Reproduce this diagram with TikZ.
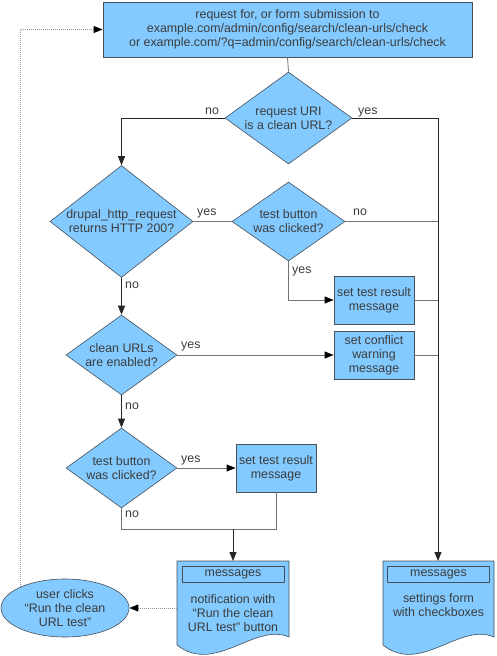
\documentclass[tikz,border=0pt]{standalone}
\usepackage{fontspec}
\setmainfont{Liberation Sans}
\usetikzlibrary{shapes.geometric,arrows.meta,calc}
\definecolor{fillblue}{RGB}{130,202,255}
\definecolor{edgegray}{RGB}{70,80,90}
\definecolor{txt}{RGB}{60,60,60}
\definecolor{linegray}{RGB}{115,115,115}
\definecolor{dotgray}{RGB}{150,150,150}
\begin{document}
\begin{tikzpicture}[x=1pt,y=-1pt,
  every node/.style={font=\fontsize{12.4}{14}\selectfont, text=txt, align=center},
  proc/.style={rectangle, draw=edgegray, fill=fillblue, line width=0.8pt, inner sep=0pt, minimum width=80pt, minimum height=48pt},
  dec/.style={diamond, draw=edgegray, fill=fillblue, line width=0.6pt, inner sep=0pt},
  docshape/.style={draw=edgegray, fill=fillblue, line width=0.6pt},
  conn/.style={draw=linegray, line width=0.8pt},
  arr/.style={draw=black!85, line width=0.8pt, -{Triangle[length=9pt,width=7pt]}},
  garr/.style={draw=linegray, line width=0.8pt, -{Triangle[length=9pt,width=7pt,color=black]}},
  dots/.style={draw=dotgray, line width=0.8pt, dash pattern=on 1pt off 1pt},
  lbl/.style={anchor=base west, inner sep=0pt}]
\useasboundingbox (0,0) rectangle (496,656);

% document shapes
\path[docshape] (177,561) -- (289,561) -- (289,637) .. controls (255,622) and (215,675) .. (177,645) -- cycle;
\path[docshape] (383,561) -- (494,561) -- (494,637) .. controls (460,622) and (420,675) .. (383,645) -- cycle;
\node[minimum width=112pt, minimum height=84pt, inner sep=0pt, anchor=north] (doc1) at (233,561) {};
\node[minimum width=111pt, minimum height=84pt, inner sep=0pt, anchor=north] (doc2) at (438,561) {};

% nodes
\node[proc, minimum width=369pt, minimum height=55pt] (top) at (287.5,29.5)
  {request for, or form submission to\\example.com/admin/config/search/clean-urls/check\\or example.com/?q=admin/config/search/clean-urls/check};
\node[dec, minimum width=127pt, minimum height=92pt, shape aspect=1.38] (d1) at (288.5,118) {request URI\\is a clean URL?};
\node[dec, minimum width=143pt, minimum height=112pt, shape aspect=1.3] (d2) at (121.5,221.5) {drupal\_http\_request\\returns HTTP 200?};
\node[dec, minimum width=113pt, minimum height=79pt, shape aspect=1.43] (d3) at (288.5,221.5) {test button\\was clicked?};
\node[proc] (b1) at (374,300) {set test result\\message};
\node[dec, minimum width=111pt, minimum height=80pt, shape aspect=1.39] (d4) at (121.5,355) {clean URLs\\are enabled?};
\node[proc] (b2) at (374,355) {set conflict\\warning\\message};
\node[dec, minimum width=111pt, minimum height=80pt, shape aspect=1.39] (d5) at (121.5,468) {test button\\was clicked?};
\node[proc] (b3) at (276,468) {set test result\\message};

\node[rectangle, draw=edgegray, line width=0.9pt, fill=fillblue, minimum width=102pt, minimum height=16pt, inner sep=0pt] (m1) at (233,574) {messages};
\node[rectangle, draw=edgegray, line width=0.9pt, fill=fillblue, minimum width=102pt, minimum height=16pt, inner sep=0pt] (m2) at (438.5,574) {messages};
\node (n1) at (233,613) {notification with\\“Run the clean\\URL test” button};
\node (n2) at (438.5,605) {settings form\\with checkboxes};

\node[ellipse, draw=edgegray, fill=fillblue, line width=0.6pt, minimum width=128pt, minimum height=58pt, inner sep=0pt] (ell) at (65,608) {user clicks\\“Run the clean\\URL test”};

\coordinate (merge) at (233,529);

% connectors
\draw[conn] (top.south) -- (d1.north);
\draw[arr] (d1.west) -| (d2.north);
\draw[arr] (d1.east) -| (doc2.north);
\draw[conn] (d2.east) -- (d3.west);
\draw[conn] (d3.east) -- (d3.east -| doc2.north);
\draw[garr] (d3.south) |- (b1.west);
\draw[conn] (b1.east) -- (b1.east -| doc2.north);
\draw[arr] (d2.south) -- (d4.north);
\draw[garr] (d4.east) -- (b2.west);
\draw[conn] (b2.east) -- (b2.east -| doc2.north);
\draw[arr] (d4.south) -- (d5.north);
\draw[garr] (d5.east) -- (b3.west);
\draw[conn] (d5.south) |- (b3.south |- merge) -- (b3.south);
\draw[arr] (merge) -- (doc1.north);
\draw[dots, -{Triangle[length=9pt,width=7pt,color=black]}] (doc1.west |- ell.east) -- (ell.east);
\draw[dots, -{Triangle[length=9pt,width=7pt,color=black]}] (ell.155.4) |- (top.west);

% labels
\node[lbl] (l1) at (205,114) {no};
\node[lbl] (l2) at (358,114) {yes};
\node[lbl] (l3) at (197,215) {yes};
\node[lbl] (l4) at (353,215) {no};
\node[lbl] (l5) at (292,273) {yes};
\node[lbl] (l6) at (125,288) {no};
\node[lbl] (l7) at (181,348) {yes};
\node[lbl] (l8) at (125,409) {no};
\node[lbl] (l9) at (181,462) {yes};
\node[lbl] (l10) at (125,517) {no};
\end{tikzpicture}
\end{document}
